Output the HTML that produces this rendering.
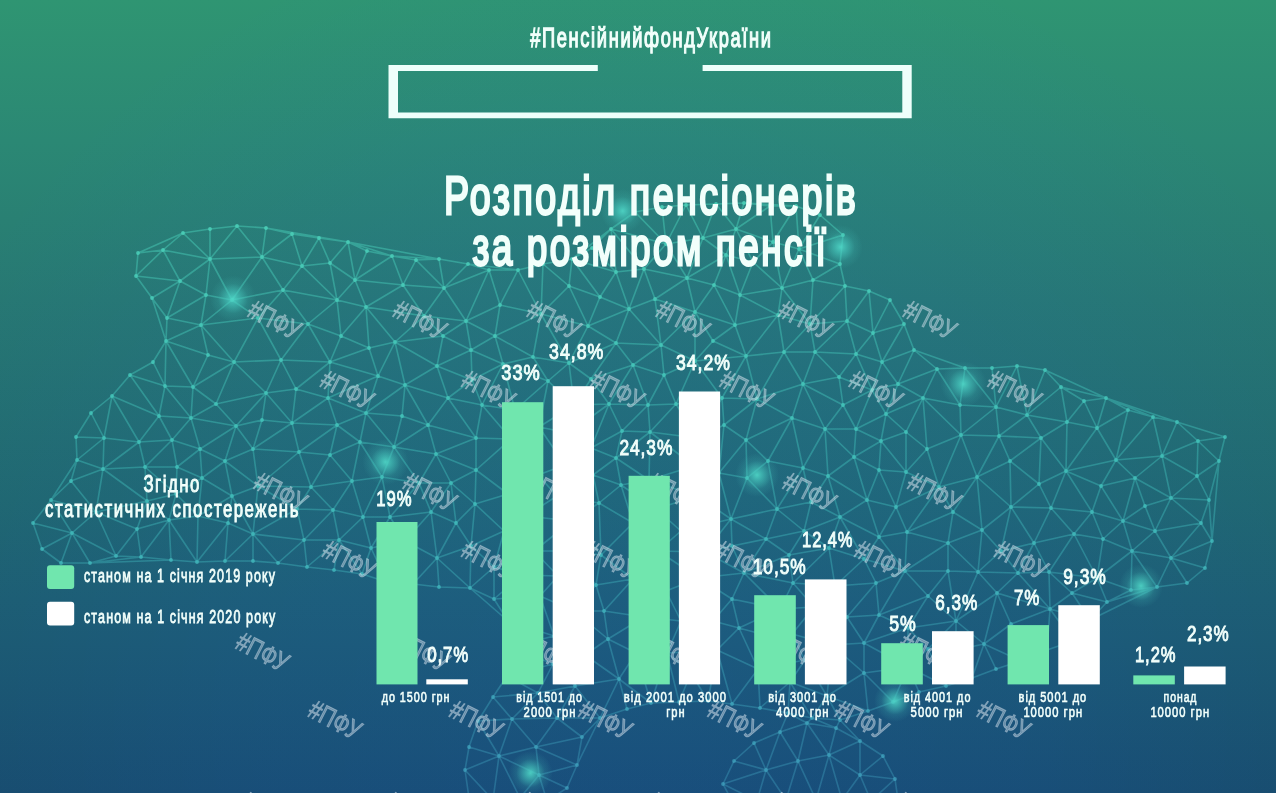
<!DOCTYPE html>
<html lang="uk"><head><meta charset="utf-8"><title>Розподіл пенсіонерів за розміром пенсії</title>
<style>
html,body{margin:0;padding:0;background:#1d5e73;}
body{width:1276px;height:793px;overflow:hidden;}
svg{display:block;font-family:"Liberation Sans", sans-serif;}
</style></head><body>
<svg width="1276" height="793" viewBox="0 0 1276 793">
<defs>
<linearGradient id="bg" x1="0" y1="0" x2="0" y2="1">
<stop offset="0" stop-color="#2f9572"/><stop offset=".177" stop-color="#2b8874"/><stop offset=".378" stop-color="#277872"/><stop offset=".63" stop-color="#20686f"/><stop offset=".757" stop-color="#1d5e70"/><stop offset="1" stop-color="#184d6c"/>
</linearGradient>
<radialGradient id="bl" gradientUnits="userSpaceOnUse" cx="638" cy="700" r="800"><stop offset="0" stop-color="#1c5aff" stop-opacity=".115"/><stop offset=".5" stop-color="#1c5aff" stop-opacity=".085"/><stop offset="1" stop-color="#1c5aff" stop-opacity="0"/></radialGradient>
<radialGradient id="gl"><stop offset="0" stop-color="#50d8c8" stop-opacity=".9"/><stop offset=".3" stop-color="#48ccc0" stop-opacity=".6"/><stop offset=".65" stop-color="#48ccc0" stop-opacity=".16"/><stop offset="1" stop-color="#4fd0c4" stop-opacity="0"/></radialGradient>
<linearGradient id="ng" gradientUnits="userSpaceOnUse" x1="0" y1="200" x2="0" y2="793"><stop offset="0" stop-color="#48ceb6" stop-opacity=".5"/><stop offset=".45" stop-color="#42c6c0" stop-opacity=".4"/><stop offset="1" stop-color="#4ab6d2" stop-opacity=".3"/></linearGradient>
<linearGradient id="nd" gradientUnits="userSpaceOnUse" x1="0" y1="200" x2="0" y2="793"><stop offset="0" stop-color="#4ed6bc" stop-opacity=".8"/><stop offset=".45" stop-color="#46cec4" stop-opacity=".7"/><stop offset="1" stop-color="#4cbcd6" stop-opacity=".5"/></linearGradient>
</defs>
<rect width="1276" height="793" fill="url(#bg)"/>
<rect width="1276" height="793" fill="url(#bl)"/>
<g id="net" fill="none" stroke="url(#ng)">
<path stroke-width="1.6" d="M136 276L152 298M136 276L163 250M136 276L138 253M136 276L180 281M152 298L167 318M152 298L166 341M152 298L180 281M167 318L166 341M167 318L201 325M167 318L180 281M167 318L206 295M166 341L153 362M166 341L208 355M166 341L201 325M166 341L165 386M166 341L193 387M153 362L130 375M153 362L165 386M130 375L112 396M130 375L159 416M130 375L165 386M112 396L91 413M112 396L139 442M112 396L104 438M112 396L159 416M91 413L76 437M91 413L104 438M76 437L77 460M76 437L104 438M77 460L71 481M77 460L51 500M77 460L104 438M77 460L103 469M71 481L51 500M71 481L96 512M71 481L103 469M51 500L33 523M51 500L72 533M51 500L96 512M33 523L42 549M33 523L72 533M42 549L61 563M42 549L72 533M61 563L90 563M61 563L72 533M90 563L116 556M90 563L141 557M90 563L171 560M90 563L72 533M116 556L141 557M116 556L72 533M116 556L96 512M116 556L137 529M141 557L171 560M141 557L169 520M141 557L137 529M171 560L197 562M171 560L169 520M197 562L225 561M197 562L198 516M197 562L169 520M197 562L228 523M225 561L253 561M225 561L253 534M225 561L228 523M253 561L278 563M253 561L253 534M278 563L307 567M278 563L253 534M278 563L304 540M307 567L334 570M307 567L339 540M307 567L304 540M334 570L362 574M334 570L339 540M362 574L387 582M362 574L339 540M362 574L371 548M387 582L413 584M387 582L405 541M387 582L371 548M413 584L439 587M413 584L405 541M413 584L437 558M439 587L470 588M439 587L437 558M470 588L494 599M470 588L508 621M470 588L471 546M470 588L437 558M470 588L494 567M494 599L508 621M494 599L540 596M494 599L494 567M494 599L522 575M508 621L511 647M508 621L540 596M508 621L554 636M511 647L507 676M511 647L554 636M511 647L553 664M507 676L493 697M507 676L538 693M507 676L553 664M493 697L478 721M493 697L538 693M493 697L512 719M478 721L469 747M478 721L499 756M478 721L512 719M469 747L465 770M469 747L499 756M465 770L469 798M465 770L493 800M465 770L499 756M469 798L493 800M493 800L520 798M493 800L547 801M493 800L499 756M520 798L547 801M520 798L499 756M520 798L539 775M547 801L567 788M547 801L539 775M567 788L577 765M567 788L539 775M577 765L582 737M577 765L600 718M577 765L536 747M577 765L539 775M582 737L600 718M582 737L536 747M582 737L557 718M600 718L627 709M600 718L619 679M600 718L557 718M600 718L575 686M627 709L651 703M627 709L619 679M651 703L679 702M651 703L619 679M651 703L667 653M651 703L636 653M679 702L708 701M679 702L667 653M679 702L691 673M708 701L732 704M708 701L717 650M708 701L691 673M732 704L760 708M732 704L717 650M732 704L758 669M760 708L788 713M760 708L790 682M760 708L758 669M788 713L812 718M788 713L780 732M788 713L807 723M788 713L790 682M812 718L840 720M812 718L836 728M812 718L807 723M812 718L790 682M812 718L827 696M840 720L868 711M840 720L860 741M840 720L836 728M840 720L827 696M868 711L893 702M868 711L864 673M868 711L827 696M893 702L919 692M893 702L908 667M893 702L864 673M919 692L946 686M919 692L908 667M946 686L972 678M946 686L908 667M946 686L956 650M946 686L928 649M972 678L996 669M972 678L984 644M972 678L956 650M996 669L1021 661M996 669L984 644M1021 661L1047 650M1021 661L984 644M1021 661L1011 624M1047 650L1073 641M1047 650L1050 609M1047 650L1011 624M1073 641L1090 620M1073 641L1050 609M1090 620L1107 602M1090 620L1157 587M1090 620L1050 609M1090 620L1072 593M1107 602L1131 590M1107 602L1157 587M1107 602L1097 578M1107 602L1072 593M1131 590L1157 587M1131 590L1097 578M1131 590L1132 551M1157 587L1187 583M1157 587L1132 551M1157 587L1171 558M1187 583L1205 568M1187 583L1171 558M1205 568L1212 541M1205 568L1171 558M1212 541L1201 523M1212 541L1209 500M1212 541L1219 461M1212 541L1171 558M1201 523L1209 500M1201 523L1155 531M1201 523L1171 498M1201 523L1171 558M1209 500L1197 476M1209 500L1219 461M1209 500L1171 498M1197 476L1219 461M1197 476L1198 441M1197 476L1171 498M1197 476L1162 456M1219 461L1225 437M1219 461L1198 441M1225 437L1198 441M1225 437L1177 422M1198 441L1177 422M1198 441L1162 456M1177 422L1153 417M1177 422L1106 398M1177 422L1162 456M1153 417L1128 410M1153 417L1106 398M1153 417L1116 460M1153 417L1162 456M1128 410L1106 398M1128 410L1116 460M1128 410L1097 428M1106 398L1084 401M1106 398L1061 387M1106 398L1045 370M1106 398L1097 428M1084 401L1061 387M1084 401L1097 428M1084 401L1067 422M1061 387L1045 370M1061 387L1027 415M1061 387L1067 422M1045 370L1017 366M1045 370L1027 415M1017 366L992 368M1017 366L1027 415M1017 366L996 407M992 368L965 368M992 368L996 407M965 368L937 369M965 368L914 350M965 368L996 407M965 368L960 405M937 369L914 350M937 369L923 398M937 369L960 405M937 369L898 384M914 350L904 324M914 350L882 362M914 350L898 384M904 324L890 300M904 324L882 362M904 324L873 333M890 300L869 291M890 300L873 333M869 291L845 286M869 291L847 321M869 291L873 333M845 286L840 264M845 286L847 321M845 286L810 324M845 286L813 280M840 264L843 235M840 264L799 249M840 264L813 280M843 235L820 215M843 235L799 249M820 215L796 206M820 215L799 249M796 206L770 206M796 206L744 203M796 206L799 249M796 206L773 242M770 206L744 203M770 206L736 229M770 206L773 242M744 203L716 204M744 203L686 205M744 203L736 229M716 204L686 205M716 204L736 229M716 204L703 238M686 205L662 207M686 205L666 244M686 205L703 238M662 207L635 212M662 207L666 244M635 212L611 229M635 212L666 244M611 229L592 248M611 229L572 259M611 229L666 244M611 229L644 269M611 229L616 272M592 248L572 259M592 248L616 272M572 259L543 264M572 259L569 286M572 259L600 297M572 259L616 272M543 264L518 270M543 264L569 286M543 264L541 314M518 270L489 270M518 270L468 264M518 270L541 314M518 270L500 305M489 270L468 264M489 270L466 321M489 270L444 288M489 270L500 305M468 264L439 259M468 264L444 288M439 259L416 260M439 259L392 256M439 259L348 242M439 259L444 288M416 260L392 256M416 260L444 288M416 260L403 285M392 256L367 251M392 256L348 242M392 256L355 280M392 256L403 285M367 251L348 242M367 251L355 280M348 242L319 238M348 242L266 228M348 242L355 280M348 242L330 263M319 238L292 234M319 238L266 228M319 238L302 266M319 238L330 263M292 234L266 228M292 234L262 257M292 234L302 266M266 228L237 226M266 228L262 257M237 226L210 229M237 226L262 257M237 226L210 259M210 229L183 233M210 229L210 259M183 233L163 250M183 233L138 253M183 233L210 259M163 250L138 253M163 250L180 281M163 250L210 259M780 732L754 743M780 732L807 723M780 732L798 761M780 732L766 770M754 743L734 761M754 743L766 770M734 761L723 784M734 761L766 770M723 784L731 799M723 784L757 801M723 784L766 770M731 799L757 801M757 801L786 800M757 801L816 800M757 801L766 770M786 800L816 800M786 800L798 761M786 800L766 770M816 800L842 800M816 800L871 801M816 800L829 755M816 800L798 761M842 800L871 801M842 800L829 755M842 800L860 775M871 801L898 800M871 801L895 779M871 801L860 775M898 800L895 779M895 779L883 756M895 779L860 775M883 756L860 741M883 756L860 775M860 741L836 728M860 741L829 755M860 741L860 775M836 728L807 723M836 728L829 755M807 723L829 755M807 723L798 761M644 617L604 611M644 617L633 579M644 617L667 653M644 617L666 591M644 617L608 639M644 617L636 653M644 617L681 621M572 521L599 503M572 521L526 516M572 521L534 551M572 521L601 555M572 521L557 496M572 521L569 551M177 467L176 494M177 467L145 467M177 467L202 478M177 467L200 449M177 467L172 440M508 494L526 516M508 494L504 531M508 494L475 504M508 494L511 439M508 494L538 475M508 494L476 470M225 461L258 486M225 461L232 496M225 461L202 478M225 461L253 449M225 461L200 449M225 461L236 426M648 405L622 431M648 405L650 432M648 405L633 365M648 405L664 375M648 405L676 404M648 405L609 404M266 393L262 420M266 393L292 423M266 393L281 360M266 393L216 404M266 393L234 362M266 393L296 389M266 393L236 426M694 466L649 480M694 466L697 438M694 466L650 432M694 466L697 496M694 466L719 473M777 509L731 519M777 509L768 461M777 509L803 468M777 509L747 478M777 509L804 531M777 509L766 539M777 509L811 502M355 280L337 300M355 280L403 285M355 280L330 263M355 280L366 307M536 747L499 756M536 747L557 718M536 747L512 719M536 747L539 775M713 621L699 578M713 621L732 599M713 621L717 650M713 621L681 621M713 621L739 628M854 457L825 429M854 457L879 470M854 457L867 500M854 457L828 476M854 457L856 429M854 457L881 441M790 682L805 660M790 682L758 669M790 682L827 696M574 405L569 363M574 405L591 379M574 405L569 433M574 405L548 381M574 405L609 404M574 405L539 427M661 345L629 309M661 345L616 343M661 345L655 299M661 345L695 361M661 345L633 365M661 345L695 312M661 345L664 375M405 385L402 416M405 385L395 342M405 385L366 413M405 385L437 366M405 385L448 398M405 385L378 376M405 385L428 425M629 309L616 343M629 309L655 299M629 309L588 326M629 309L644 269M629 309L600 297M629 309L616 272M907 532L939 487M907 532L948 543M907 532L905 571M907 532L896 507M907 532L953 512M907 532L879 537M258 486L299 452M258 486L311 487M258 486L232 496M258 486L297 509M258 486L253 534M258 486L253 449M1010 461L1011 507M1010 461L977 477M1010 461L1041 438M1010 461L1039 484M1010 461L999 436M876 583L847 617M876 583L864 559M876 583L879 615M876 583L835 586M876 583L905 571M515 410L482 405M515 410L511 439M515 410L548 381M515 410L539 427M515 410L503 364M337 300L302 266M337 300L308 324M337 300L330 263M337 300L283 290M337 300L341 336M337 300L366 307M369 348L395 342M369 348L330 362M369 348L378 376M369 348L341 336M369 348L366 307M382 477L360 442M382 477L352 481M382 477L419 483M382 477L394 447M382 477L363 517M382 477L390 517M402 416L366 413M402 416L394 447M402 416L428 425M599 503L633 523M599 503L601 555M599 503L557 496M599 503L621 485M599 503L593 475M139 442L104 438M139 442L159 416M139 442L103 469M139 442L145 467M139 442L172 440M395 342L437 366M395 342L424 316M395 342L378 376M395 342L366 307M395 342L443 336M731 519L697 496M731 519L747 478M731 519L681 531M731 519L719 473M731 519L732 546M731 519L766 539M731 519L705 552M928 596L948 571M928 596L956 621M928 596L908 628M928 596L879 615M928 596L905 571M1097 578L1074 534M1097 578L1049 572M1097 578L1132 551M1097 578L1103 539M1097 578L1072 593M198 516L169 520M198 516L232 496M198 516L176 494M198 516L228 523M198 516L202 478M847 617L864 643M847 617L832 645M847 617L879 615M847 617L814 607M847 617L835 586M191 418L159 416M191 418L216 404M191 418L165 386M191 418L193 387M191 418L200 449M191 418L236 426M191 418L172 440M699 578L658 551M699 578L744 573M699 578L732 599M699 578L666 591M699 578L681 621M699 578L705 552M780 609L744 573M780 609L732 599M780 609L793 583M780 609L765 635M780 609L814 607M780 609L792 634M780 609L739 628M633 523L633 579M633 523L658 551M633 523L601 555M633 523L656 509M633 523L621 485M622 431L650 432M622 431L609 404M622 431L591 448M622 431L616 458M604 611L633 579M604 611L574 611M604 611L608 639M604 611L596 585M948 571L956 621M948 571L978 572M948 571L948 543M948 571L905 571M799 249L782 288M799 249L773 242M799 249L813 280M208 355L201 325M208 355L234 362M208 355L193 387M839 377L803 384M839 377L815 352M839 377L843 405M839 377L872 390M839 377L856 354M649 480L650 432M649 480L697 496M649 480L616 458M649 480L656 509M649 480L621 485M569 363L533 357M569 363L616 343M569 363L591 379M569 363L541 314M569 363L588 326M569 363L548 381M1011 507L982 530M1011 507L977 477M1011 507L1001 551M1011 507L1034 543M1011 507L1051 508M1011 507L1039 484M476 438L482 405M476 438L436 454M476 438L511 439M476 438L448 398M476 438L476 470M476 438L428 425M330 362L281 360M330 362L328 398M330 362L308 324M330 362L378 376M330 362L341 336M330 362L296 389M1155 531L1171 498M1155 531L1132 551M1155 531L1171 558M1155 531L1123 521M1155 531L1145 506M906 472L927 449M906 472L879 470M906 472L939 487M906 472L906 432M906 472L896 507M906 472L881 441M697 438L722 398M697 438L650 432M697 438L676 404M697 438L719 473M697 438L724 425M232 300L262 257M232 300L201 325M232 300L258 318M232 300L210 259M232 300L283 290M232 300L206 295M569 286L541 314M569 286L588 326M569 286L600 297M262 257L302 266M262 257L210 259M262 257L283 290M927 449L923 398M927 449L961 435M927 449L939 487M927 449L906 432M526 516L504 531M526 516L534 551M526 516L538 475M526 516L557 496M482 405L511 439M482 405L448 398M482 405L503 364M482 405L472 380M633 579L658 551M633 579L601 555M633 579L666 591M633 579L596 585M1101 486L1066 471M1101 486L1116 460M1101 486L1135 478M1101 486L1123 521M1101 486L1092 512M499 756L512 719M499 756L539 775M805 660L758 669M805 660L827 696M805 660L832 645M805 660L792 634M803 384L825 429M803 384L757 399M803 384L792 418M803 384L784 352M803 384L815 352M803 384L843 405M658 551L681 531M658 551L666 591M658 551L656 509M658 551L705 552M495 336L533 357M495 336L466 321M495 336L541 314M495 336L471 350M495 336L500 305M495 336L503 364M533 357L541 314M533 357L548 381M533 357L503 364M829 755L798 761M829 755L860 775M436 454L419 483M436 454L394 447M436 454L476 470M436 454L451 483M436 454L428 425M847 321L810 324M847 321L815 352M847 321L873 333M847 321L856 354M984 644L997 593M984 644L956 621M984 644L1011 624M984 644L956 650M299 452L311 487M299 452L292 423M299 452L330 455M299 452L253 449M299 452L337 425M104 438L103 469M825 429L792 418M825 429L803 468M825 429L828 476M825 429L843 405M825 429L856 429M366 413L328 398M366 413L360 442M366 413L394 447M366 413L378 376M366 413L337 425M262 420L292 423M262 420L253 449M262 420L236 426M437 366L448 398M437 366L471 350M437 366L472 380M437 366L443 336M311 487L330 455M311 487L352 481M311 487L297 509M311 487L333 510M757 399L722 398M757 399L792 418M757 399L784 352M757 399L746 440M757 399L746 356M757 399L724 425M72 533L96 512M147 501L169 520M147 501L96 512M147 501L137 529M147 501L176 494M147 501L103 469M147 501L145 467M879 470L867 500M879 470L896 507M879 470L881 441M722 398L695 361M722 398L746 356M722 398L676 404M722 398L724 425M997 593L956 621M997 593L1050 609M997 593L1011 624M997 593L978 572M997 593L1018 573M1066 471L1116 460M1066 471L1041 438M1066 471L1051 508M1066 471L1039 484M1066 471L1097 428M1066 471L1067 422M1066 471L1092 512M744 573L732 599M744 573L793 583M744 573L732 546M744 573L766 539M744 573L705 552M744 573L789 555M292 423L328 398M292 423L253 449M292 423L296 389M292 423L337 425M201 325L258 318M201 325L234 362M201 325L206 295M810 324L784 352M810 324L815 352M810 324L782 288M810 324L778 315M810 324L813 280M982 530L977 477M982 530L1001 551M982 530L978 572M982 530L948 543M982 530L953 512M504 531L475 504M504 531L534 551M504 531L471 546M504 531L494 567M405 541L431 512M405 541L437 558M405 541L390 517M405 541L371 548M466 321L444 288M466 321L424 316M466 321L471 350M466 321L500 305M466 321L443 336M538 693L553 664M538 693L557 718M538 693L512 719M538 693L575 686M475 504L471 546M475 504L476 470M475 504L451 483M475 504L456 523M650 432L676 404M650 432L616 458M534 551L558 576M534 551L494 567M534 551L522 575M534 551L569 551M540 596L554 636M540 596L558 576M540 596L574 611M540 596L522 575M565 465L538 475M565 465L569 433M565 465L557 496M565 465L539 427M565 465L591 448M565 465L593 475M616 343L591 379M616 343L633 365M616 343L588 326M908 667L864 643M908 667L864 673M908 667L908 628M908 667L928 649M281 360L258 318M281 360L234 362M281 360L308 324M281 360L296 389M169 520L137 529M169 520L176 494M792 418L768 461M792 418L803 468M792 418L746 440M1074 534L1049 572M1074 534L1034 543M1074 534L1051 508M1074 534L1103 539M1074 534L1092 512M732 599L739 628M768 461L803 468M768 461L746 440M768 461L747 478M159 416L165 386M159 416L172 440M735 325L714 285M735 325L746 356M735 325L695 312M735 325L778 315M735 325L713 341M735 325L740 295M803 468L828 476M803 468L811 502M302 266L330 263M302 266L283 290M882 362L873 333M882 362L898 384M882 362L872 390M882 362L856 354M923 398L961 435M923 398L960 405M923 398L886 414M923 398L906 432M923 398L898 384M554 636L553 664M554 636L574 611M554 636L585 655M444 288L424 316M444 288L403 285M864 643L864 673M864 643L908 628M864 643L832 645M864 643L879 615M1049 572L1050 609M1049 572L1034 543M1049 572L1018 573M1049 572L1072 593M553 664L575 686M553 664L585 655M619 679L575 686M619 679L608 639M619 679L636 653M619 679L585 655M867 500L828 476M867 500L840 517M867 500L896 507M867 500L879 537M864 673L827 696M864 673L832 645M511 439L538 475M511 439L476 470M511 439L539 427M667 653L717 650M667 653L691 673M667 653L636 653M667 653L681 621M448 398L428 425M448 398L472 380M328 398L378 376M328 398L296 389M328 398L337 425M655 299L687 278M655 299L644 269M655 299L695 312M424 316L403 285M424 316L366 307M424 316L443 336M1116 460L1162 456M1116 460L1135 478M1116 460L1097 428M717 650L758 669M717 650L691 673M717 650L681 621M717 650L739 628M956 621L908 628M956 621L978 572M956 621L956 650M956 621L928 649M1050 609L1011 624M1050 609L1018 573M1050 609L1072 593M784 352L815 352M784 352L746 356M784 352L778 315M538 475L557 496M538 475L539 427M961 435L977 477M961 435L996 407M961 435L960 405M961 435L939 487M961 435L999 436M360 442L330 455M360 442L352 481M360 442L394 447M360 442L337 425M591 379L633 365M591 379L609 404M687 278L714 285M687 278L666 244M687 278L726 255M687 278L644 269M687 278L695 312M687 278L703 238M1027 415L996 407M1027 415L1041 438M1027 415L1067 422M1027 415L999 436M541 314L588 326M541 314L500 305M815 352L856 354M758 669L765 635M758 669L792 634M758 669L739 628M695 361L746 356M695 361L695 312M695 361L664 375M695 361L676 404M695 361L713 341M793 583L829 548M793 583L814 607M793 583L835 586M793 583L789 555M633 365L664 375M633 365L609 404M864 559L840 517M864 559L829 548M864 559L835 586M864 559L905 571M864 559L879 537M828 476L840 517M828 476L811 502M798 761L766 770M471 546L437 558M471 546L494 567M471 546L456 523M588 326L600 297M977 477L939 487M977 477L953 512M977 477L999 436M601 555L596 585M601 555L569 551M258 318L234 362M258 318L308 324M258 318L283 290M746 440L747 478M746 440L719 473M746 440L724 425M339 540L333 510M339 540L304 540M339 540L363 517M339 540L371 548M782 288L753 262M782 288L778 315M782 288L773 242M782 288L813 280M782 288L740 295M232 496L253 534M232 496L228 523M232 496L202 478M996 407L960 405M996 407L999 436M714 285L726 255M714 285L695 312M714 285L740 295M1001 551L1034 543M1001 551L978 572M1001 551L1018 573M1171 498L1162 456M1171 498L1135 478M1171 498L1145 506M96 512L137 529M96 512L103 469M330 455L352 481M330 455L337 425M666 244L644 269M666 244L703 238M352 481L333 510M352 481L363 517M180 281L210 259M180 281L206 295M297 509L253 534M297 509L333 510M297 509L304 540M697 496L681 531M697 496L719 473M697 496L656 509M216 404L234 362M216 404L193 387M216 404L236 426M939 487L896 507M939 487L953 512M726 255L753 262M726 255L736 229M726 255L740 295M726 255L703 238M840 517L804 531M840 517L829 548M840 517L811 502M840 517L879 537M558 576L574 611M558 576L522 575M558 576L596 585M558 576L569 551M644 269L616 272M886 414L906 432M886 414L856 429M886 414L898 384M886 414L872 390M886 414L881 441M234 362L193 387M569 433L609 404M569 433L539 427M569 433L591 448M471 350L503 364M471 350L472 380M471 350L443 336M908 628L879 615M908 628L928 649M1034 543L1051 508M1034 543L1018 573M1162 456L1135 478M403 285L366 307M747 478L719 473M419 483L431 512M419 483L394 447M419 483L390 517M419 483L451 483M827 696L832 645M557 718L512 719M557 718L575 686M753 262L736 229M753 262L773 242M753 262L740 295M253 534L228 523M253 534L304 540M600 297L616 272M1041 438L1039 484M1041 438L1067 422M1041 438L999 436M736 229L773 242M736 229L703 238M1132 551L1171 558M1132 551L1103 539M1132 551L1123 521M873 333L856 354M843 405L856 429M843 405L872 390M746 356L778 315M746 356L713 341M765 635L792 634M765 635L739 628M695 312L713 341M308 324L283 290M308 324L341 336M176 494L145 467M176 494L202 478M681 531L656 509M681 531L705 552M804 531L829 548M804 531L766 539M804 531L811 502M804 531L789 555M1051 508L1039 484M1051 508L1092 512M978 572L948 543M978 572L1018 573M557 496L593 475M832 645L814 607M832 645L792 634M431 512L437 558M431 512L390 517M431 512L451 483M431 512L456 523M210 259L206 295M437 558L456 523M575 686L585 655M879 615L905 571M664 375L676 404M165 386L193 387M829 548L835 586M829 548L789 555M103 469L145 467M574 611L608 639M574 611L596 585M574 611L585 655M906 432L881 441M145 467L172 440M666 591L681 621M394 447L428 425M1135 478L1123 521M1135 478L1145 506M476 470L451 483M202 478L200 449M548 381L539 427M548 381L503 364M494 567L522 575M719 473L724 425M609 404L591 448M608 639L636 653M608 639L585 655M814 607L835 586M814 607L792 634M778 315L740 295M732 546L766 539M732 546L705 552M766 539L789 555M948 543L905 571M948 543L953 512M1097 428L1067 422M591 448L616 458M591 448L593 475M333 510L304 540M333 510L363 517M956 650L928 649M253 449L236 426M905 571L879 537M503 364L472 380M616 458L621 485M616 458L593 475M896 507L879 537M1103 539L1123 521M1103 539L1092 512M341 336L366 307M363 517L390 517M363 517L371 548M390 517L371 548M200 449L236 426M200 449L172 440M656 509L621 485M596 585L569 551M1123 521L1145 506M1123 521L1092 512M451 483L456 523M856 429L872 390M856 429L881 441M621 485L593 475M898 384L872 390M872 390L856 354"/>
<path stroke="url(#nd)" stroke-width="3.8" stroke-linecap="round" d="M136 276h.01M152 298h.01M167 318h.01M166 341h.01M153 362h.01M130 375h.01M112 396h.01M91 413h.01M76 437h.01M77 460h.01M71 481h.01M51 500h.01M33 523h.01M42 549h.01M61 563h.01M90 563h.01M116 556h.01M141 557h.01M171 560h.01M197 562h.01M225 561h.01M253 561h.01M278 563h.01M307 567h.01M334 570h.01M362 574h.01M387 582h.01M413 584h.01M439 587h.01M470 588h.01M494 599h.01M508 621h.01M511 647h.01M507 676h.01M493 697h.01M478 721h.01M469 747h.01M465 770h.01M469 798h.01M567 788h.01M577 765h.01M582 737h.01M600 718h.01M627 709h.01M651 703h.01M679 702h.01M708 701h.01M732 704h.01M760 708h.01M788 713h.01M812 718h.01M840 720h.01M868 711h.01M893 702h.01M919 692h.01M946 686h.01M972 678h.01M996 669h.01M1021 661h.01M1047 650h.01M1073 641h.01M1090 620h.01M1107 602h.01M1131 590h.01M1157 587h.01M1187 583h.01M1205 568h.01M1212 541h.01M1201 523h.01M1209 500h.01M1197 476h.01M1219 461h.01M1225 437h.01M1198 441h.01M1177 422h.01M1153 417h.01M1128 410h.01M1106 398h.01M1084 401h.01M1061 387h.01M1045 370h.01M1017 366h.01M992 368h.01M965 368h.01M937 369h.01M914 350h.01M904 324h.01M890 300h.01M869 291h.01M845 286h.01M840 264h.01M843 235h.01M820 215h.01M796 206h.01M770 206h.01M744 203h.01M716 204h.01M686 205h.01M662 207h.01M635 212h.01M611 229h.01M592 248h.01M572 259h.01M543 264h.01M518 270h.01M489 270h.01M468 264h.01M439 259h.01M416 260h.01M392 256h.01M367 251h.01M348 242h.01M319 238h.01M292 234h.01M266 228h.01M237 226h.01M210 229h.01M183 233h.01M163 250h.01M138 253h.01M780 732h.01M754 743h.01M734 761h.01M723 784h.01M895 779h.01M883 756h.01M860 741h.01M836 728h.01M807 723h.01M644 617h.01M572 521h.01M177 467h.01M508 494h.01M225 461h.01M648 405h.01M266 393h.01M694 466h.01M777 509h.01M355 280h.01M536 747h.01M713 621h.01M854 457h.01M790 682h.01M574 405h.01M661 345h.01M405 385h.01M629 309h.01M907 532h.01M258 486h.01M1010 461h.01M876 583h.01M515 410h.01M337 300h.01M369 348h.01M382 477h.01M402 416h.01M599 503h.01M139 442h.01M395 342h.01M731 519h.01M928 596h.01M1097 578h.01M198 516h.01M847 617h.01M191 418h.01M699 578h.01M780 609h.01M633 523h.01M622 431h.01M604 611h.01M948 571h.01M799 249h.01M208 355h.01M839 377h.01M649 480h.01M569 363h.01M1011 507h.01M476 438h.01M330 362h.01M1155 531h.01M906 472h.01M697 438h.01M232 300h.01M569 286h.01M262 257h.01M927 449h.01M526 516h.01M482 405h.01M633 579h.01M1101 486h.01M499 756h.01M805 660h.01M803 384h.01M658 551h.01M495 336h.01M533 357h.01M829 755h.01M436 454h.01M847 321h.01M984 644h.01M299 452h.01M104 438h.01M825 429h.01M366 413h.01M262 420h.01M437 366h.01M311 487h.01M757 399h.01M72 533h.01M147 501h.01M879 470h.01M722 398h.01M997 593h.01M1066 471h.01M744 573h.01M292 423h.01M201 325h.01M810 324h.01M982 530h.01M504 531h.01M405 541h.01M466 321h.01M538 693h.01M475 504h.01M650 432h.01M534 551h.01M540 596h.01M565 465h.01M616 343h.01M908 667h.01M281 360h.01M169 520h.01M792 418h.01M1074 534h.01M732 599h.01M768 461h.01M159 416h.01M735 325h.01M803 468h.01M302 266h.01M882 362h.01M923 398h.01M554 636h.01M444 288h.01M864 643h.01M1049 572h.01M553 664h.01M619 679h.01M867 500h.01M864 673h.01M511 439h.01M667 653h.01M448 398h.01M328 398h.01M655 299h.01M424 316h.01M1116 460h.01M717 650h.01M956 621h.01M1050 609h.01M784 352h.01M538 475h.01M961 435h.01M360 442h.01M591 379h.01M687 278h.01M1027 415h.01M541 314h.01M815 352h.01M758 669h.01M695 361h.01M793 583h.01M633 365h.01M864 559h.01M828 476h.01M798 761h.01M471 546h.01M588 326h.01M977 477h.01M601 555h.01M258 318h.01M746 440h.01M339 540h.01M782 288h.01M232 496h.01M996 407h.01M714 285h.01M1001 551h.01M1171 498h.01M960 405h.01M96 512h.01M330 455h.01M666 244h.01M352 481h.01M180 281h.01M137 529h.01M297 509h.01M697 496h.01M216 404h.01M939 487h.01M726 255h.01M840 517h.01M558 576h.01M644 269h.01M886 414h.01M234 362h.01M569 433h.01M471 350h.01M908 628h.01M1034 543h.01M1162 456h.01M403 285h.01M747 478h.01M419 483h.01M1011 624h.01M827 696h.01M557 718h.01M500 305h.01M753 262h.01M253 534h.01M600 297h.01M1041 438h.01M736 229h.01M1132 551h.01M873 333h.01M843 405h.01M746 356h.01M765 635h.01M695 312h.01M512 719h.01M308 324h.01M176 494h.01M681 531h.01M804 531h.01M1051 508h.01M978 572h.01M557 496h.01M832 645h.01M431 512h.01M691 673h.01M210 259h.01M228 523h.01M437 558h.01M575 686h.01M879 615h.01M664 375h.01M165 386h.01M829 548h.01M103 469h.01M574 611h.01M906 432h.01M145 467h.01M666 591h.01M394 447h.01M1135 478h.01M378 376h.01M476 470h.01M676 404h.01M330 263h.01M202 478h.01M548 381h.01M494 567h.01M719 473h.01M609 404h.01M608 639h.01M814 607h.01M778 315h.01M732 546h.01M766 539h.01M193 387h.01M948 543h.01M1039 484h.01M539 427h.01M773 242h.01M1097 428h.01M591 448h.01M333 510h.01M956 650h.01M283 290h.01M522 575h.01M835 586h.01M253 449h.01M905 571h.01M1018 573h.01M304 540h.01M503 364h.01M616 458h.01M896 507h.01M1171 558h.01M1103 539h.01M953 512h.01M811 502h.01M341 336h.01M363 517h.01M296 389h.01M390 517h.01M636 653h.01M366 307h.01M371 548h.01M713 341h.01M1067 422h.01M200 449h.01M879 537h.01M656 509h.01M596 585h.01M337 425h.01M569 551h.01M1123 521h.01M792 634h.01M539 775h.01M1145 506h.01M451 483h.01M813 280h.01M856 429h.01M206 295h.01M681 621h.01M740 295h.01M703 238h.01M456 523h.01M739 628h.01M999 436h.01M766 770h.01M616 272h.01M1092 512h.01M860 775h.01M428 425h.01M724 425h.01M1072 593h.01M621 485h.01M898 384h.01M928 649h.01M472 380h.01M593 475h.01M872 390h.01M585 655h.01M236 426h.01M705 552h.01M856 354h.01M443 336h.01M789 555h.01M881 441h.01M172 440h.01"/>
</g>
<circle cx="233" cy="298.5" r="23" fill="url(#gl)"/><circle cx="385.5" cy="462" r="23" fill="url(#gl)"/><circle cx="622.7" cy="211" r="22" fill="url(#gl)"/><circle cx="840.5" cy="247" r="22" fill="url(#gl)"/><circle cx="963.5" cy="384" r="23" fill="url(#gl)"/><circle cx="757" cy="475" r="22" fill="url(#gl)"/><circle cx="530.5" cy="773" r="22" fill="url(#gl)"/><circle cx="1141" cy="586" r="22" fill="url(#gl)"/><circle cx="895" cy="701" r="21" fill="url(#gl)"/>
<g font-size="27" font-weight="normal" fill="#dfe9f2" fill-opacity=".4" stroke="#dfe9f2" stroke-opacity=".4" stroke-width=".95"><text x="274.7" y="329.3" transform="rotate(27 274.7 320)" text-anchor="middle" textLength="55" lengthAdjust="spacingAndGlyphs">#ПФУ</text><text x="420" y="329.3" transform="rotate(27 420 320)" text-anchor="middle" textLength="55" lengthAdjust="spacingAndGlyphs">#ПФУ</text><text x="554" y="329.3" transform="rotate(27 554 320)" text-anchor="middle" textLength="55" lengthAdjust="spacingAndGlyphs">#ПФУ</text><text x="683" y="329.3" transform="rotate(27 683 320)" text-anchor="middle" textLength="55" lengthAdjust="spacingAndGlyphs">#ПФУ</text><text x="805.6" y="329.3" transform="rotate(27 805.6 320)" text-anchor="middle" textLength="55" lengthAdjust="spacingAndGlyphs">#ПФУ</text><text x="930" y="329.3" transform="rotate(27 930 320)" text-anchor="middle" textLength="55" lengthAdjust="spacingAndGlyphs">#ПФУ</text><text x="347.3" y="399.3" transform="rotate(27 347.3 390)" text-anchor="middle" textLength="55" lengthAdjust="spacingAndGlyphs">#ПФУ</text><text x="488.5" y="399.3" transform="rotate(27 488.5 390)" text-anchor="middle" textLength="55" lengthAdjust="spacingAndGlyphs">#ПФУ</text><text x="617.5" y="399.3" transform="rotate(27 617.5 390)" text-anchor="middle" textLength="55" lengthAdjust="spacingAndGlyphs">#ПФУ</text><text x="746.8" y="399.3" transform="rotate(27 746.8 390)" text-anchor="middle" textLength="55" lengthAdjust="spacingAndGlyphs">#ПФУ</text><text x="876" y="399.3" transform="rotate(27 876 390)" text-anchor="middle" textLength="55" lengthAdjust="spacingAndGlyphs">#ПФУ</text><text x="1014.8" y="399.3" transform="rotate(27 1014.8 390)" text-anchor="middle" textLength="55" lengthAdjust="spacingAndGlyphs">#ПФУ</text><text x="280.7" y="501.3" transform="rotate(27 280.7 492)" text-anchor="middle" textLength="55" lengthAdjust="spacingAndGlyphs">#ПФУ</text><text x="430" y="501.3" transform="rotate(27 430 492)" text-anchor="middle" textLength="55" lengthAdjust="spacingAndGlyphs">#ПФУ</text><text x="554" y="501.3" transform="rotate(27 554 492)" text-anchor="middle" textLength="55" lengthAdjust="spacingAndGlyphs">#ПФУ</text><text x="674" y="501.3" transform="rotate(27 674 492)" text-anchor="middle" textLength="55" lengthAdjust="spacingAndGlyphs">#ПФУ</text><text x="809.7" y="501.3" transform="rotate(27 809.7 492)" text-anchor="middle" textLength="55" lengthAdjust="spacingAndGlyphs">#ПФУ</text><text x="934.5" y="501.3" transform="rotate(27 934.5 492)" text-anchor="middle" textLength="55" lengthAdjust="spacingAndGlyphs">#ПФУ</text><text x="349.3" y="569.3" transform="rotate(27 349.3 560)" text-anchor="middle" textLength="55" lengthAdjust="spacingAndGlyphs">#ПФУ</text><text x="488.5" y="569.3" transform="rotate(27 488.5 560)" text-anchor="middle" textLength="55" lengthAdjust="spacingAndGlyphs">#ПФУ</text><text x="610.8" y="569.3" transform="rotate(27 610.8 560)" text-anchor="middle" textLength="55" lengthAdjust="spacingAndGlyphs">#ПФУ</text><text x="742" y="569.3" transform="rotate(27 742 560)" text-anchor="middle" textLength="55" lengthAdjust="spacingAndGlyphs">#ПФУ</text><text x="881.6" y="569.3" transform="rotate(27 881.6 560)" text-anchor="middle" textLength="55" lengthAdjust="spacingAndGlyphs">#ПФУ</text><text x="1021.3" y="569.3" transform="rotate(27 1021.3 560)" text-anchor="middle" textLength="55" lengthAdjust="spacingAndGlyphs">#ПФУ</text><text x="262.7" y="661.3" transform="rotate(27 262.7 652)" text-anchor="middle" textLength="55" lengthAdjust="spacingAndGlyphs">#ПФУ</text><text x="423" y="661.3" transform="rotate(27 423 652)" text-anchor="middle" textLength="55" lengthAdjust="spacingAndGlyphs">#ПФУ</text><text x="545" y="661.3" transform="rotate(27 545 652)" text-anchor="middle" textLength="55" lengthAdjust="spacingAndGlyphs">#ПФУ</text><text x="672" y="661.3" transform="rotate(27 672 652)" text-anchor="middle" textLength="55" lengthAdjust="spacingAndGlyphs">#ПФУ</text><text x="799.5" y="661.3" transform="rotate(27 799.5 652)" text-anchor="middle" textLength="55" lengthAdjust="spacingAndGlyphs">#ПФУ</text><text x="926.6" y="661.3" transform="rotate(27 926.6 652)" text-anchor="middle" textLength="55" lengthAdjust="spacingAndGlyphs">#ПФУ</text><text x="335.2" y="729.3" transform="rotate(27 335.2 720)" text-anchor="middle" textLength="55" lengthAdjust="spacingAndGlyphs">#ПФУ</text><text x="476.3" y="729.3" transform="rotate(27 476.3 720)" text-anchor="middle" textLength="55" lengthAdjust="spacingAndGlyphs">#ПФУ</text><text x="605.6" y="729.3" transform="rotate(27 605.6 720)" text-anchor="middle" textLength="55" lengthAdjust="spacingAndGlyphs">#ПФУ</text><text x="734.7" y="729.3" transform="rotate(27 734.7 720)" text-anchor="middle" textLength="55" lengthAdjust="spacingAndGlyphs">#ПФУ</text><text x="861.8" y="729.3" transform="rotate(27 861.8 720)" text-anchor="middle" textLength="55" lengthAdjust="spacingAndGlyphs">#ПФУ</text><text x="1003.9" y="729.3" transform="rotate(27 1003.9 720)" text-anchor="middle" textLength="55" lengthAdjust="spacingAndGlyphs">#ПФУ</text><text x="267" y="820.3" transform="rotate(27 267 811)" text-anchor="middle" textLength="55" lengthAdjust="spacingAndGlyphs">#ПФУ</text><text x="412" y="820.3" transform="rotate(27 412 811)" text-anchor="middle" textLength="55" lengthAdjust="spacingAndGlyphs">#ПФУ</text><text x="546" y="820.3" transform="rotate(27 546 811)" text-anchor="middle" textLength="55" lengthAdjust="spacingAndGlyphs">#ПФУ</text><text x="675" y="820.3" transform="rotate(27 675 811)" text-anchor="middle" textLength="55" lengthAdjust="spacingAndGlyphs">#ПФУ</text><text x="798" y="820.3" transform="rotate(27 798 811)" text-anchor="middle" textLength="55" lengthAdjust="spacingAndGlyphs">#ПФУ</text><text x="922" y="820.3" transform="rotate(27 922 811)" text-anchor="middle" textLength="55" lengthAdjust="spacingAndGlyphs">#ПФУ</text></g>
<g id="head">
<text x="530.2" y="47.4" font-size="27.6" font-weight="normal" fill="#f2fffb" stroke="#f2fffb" stroke-width="1.35" letter-spacing="2.48" textLength="242.4" lengthAdjust="spacingAndGlyphs">#ПенсійнийфондУкраїни</text>
<path fill="#eefffb" d="M388.5 65H597.8V71H398V112.5H902.3V71H702.6V65H911.7V118.2H388.5Z"/>
<text x="443.9" y="214.2" font-size="54.5" font-weight="normal" fill="#f2fffb" stroke="#f2fffb" stroke-width="2.8" letter-spacing="3.6" word-spacing="-1" textLength="414.3" lengthAdjust="spacingAndGlyphs">Розподіл пенсіонерів</text>
<text x="472.4" y="265.3" font-size="54.5" font-weight="normal" fill="#f2fffb" stroke="#f2fffb" stroke-width="2.8" letter-spacing="3.6" word-spacing="-1" textLength="355.8" lengthAdjust="spacingAndGlyphs">за розміром пенсії</text>
</g>
<g id="legend">
<text x="143.4" y="491.8" font-size="24.4" font-weight="normal" fill="#f2fffb" stroke="#f2fffb" stroke-width="1.0" letter-spacing="2.2" textLength="57.5" lengthAdjust="spacingAndGlyphs">Згідно</text>
<text x="45.1" y="517.0" font-size="24.4" font-weight="normal" fill="#f2fffb" stroke="#f2fffb" stroke-width="1.0" letter-spacing="2.2" textLength="254.8" lengthAdjust="spacingAndGlyphs">статистичних спостережень</text>
<rect x="47" y="565.3" width="27.2" height="23.6" rx="3" fill="#70e6ae"/>
<rect x="47" y="601.8" width="27.2" height="23.6" rx="3" fill="#fff"/>
<text x="84.0" y="582.0" font-size="19" font-weight="normal" fill="#f2fffb" stroke="#f2fffb" stroke-width="0.8" letter-spacing="1.71" textLength="192.0" lengthAdjust="spacingAndGlyphs">станом на 1 січня 2019 року</text>
<text x="84.0" y="622.6" font-size="19" font-weight="normal" fill="#f2fffb" stroke="#f2fffb" stroke-width="0.8" letter-spacing="1.71" textLength="192.3" lengthAdjust="spacingAndGlyphs">станом на 1 січня 2020 року</text>
</g>
<g id="bars"><rect x="376.5" y="522.0" width="41.0" height="162.4" fill="#70e6ae"/><rect x="426.3" y="679.3" width="41.5" height="5.1" fill="#fff"/><rect x="502.0" y="402.2" width="41.3" height="282.2" fill="#70e6ae"/><rect x="552.7" y="386.2" width="41.3" height="298.2" fill="#fff"/><rect x="628.6" y="475.8" width="41.2" height="208.6" fill="#70e6ae"/><rect x="678.9" y="391.5" width="41.2" height="292.9" fill="#fff"/><rect x="754.2" y="595.2" width="41.6" height="89.2" fill="#70e6ae"/><rect x="804.9" y="579.4" width="41.6" height="105.0" fill="#fff"/><rect x="881.2" y="643.2" width="41.6" height="41.2" fill="#70e6ae"/><rect x="932.0" y="631.2" width="41.6" height="53.2" fill="#fff"/><rect x="1007.6" y="625.1" width="41.4" height="59.3" fill="#70e6ae"/><rect x="1058.3" y="605.2" width="41.5" height="79.2" fill="#fff"/><rect x="1133.3" y="675.4" width="41.5" height="9.0" fill="#70e6ae"/><rect x="1184.1" y="666.5" width="41.5" height="17.9" fill="#fff"/></g>
<g id="vals"><text x="376.3" y="506.3" font-size="22" font-weight="normal" fill="#f2fffb" stroke="#f2fffb" stroke-width="0.95" letter-spacing="1.2" textLength="36.1" lengthAdjust="spacingAndGlyphs">19%</text><text x="427.3" y="662.3" font-size="22" font-weight="normal" fill="#f2fffb" stroke="#f2fffb" stroke-width="0.95" letter-spacing="1.2" textLength="41.9" lengthAdjust="spacingAndGlyphs">0,7%</text><text x="501.3" y="380.4" font-size="22" font-weight="normal" fill="#f2fffb" stroke="#f2fffb" stroke-width="0.95" letter-spacing="1.2" textLength="39.5" lengthAdjust="spacingAndGlyphs">33%</text><text x="549.1" y="358.9" font-size="22" font-weight="normal" fill="#f2fffb" stroke="#f2fffb" stroke-width="0.95" letter-spacing="1.2" textLength="55.2" lengthAdjust="spacingAndGlyphs">34,8%</text><text x="619.4" y="455.4" font-size="22" font-weight="normal" fill="#f2fffb" stroke="#f2fffb" stroke-width="0.95" letter-spacing="1.2" textLength="53.9" lengthAdjust="spacingAndGlyphs">24,3%</text><text x="676.0" y="370.1" font-size="22" font-weight="normal" fill="#f2fffb" stroke="#f2fffb" stroke-width="0.95" letter-spacing="1.2" textLength="54.8" lengthAdjust="spacingAndGlyphs">34,2%</text><text x="752.7" y="574.4" font-size="22" font-weight="normal" fill="#f2fffb" stroke="#f2fffb" stroke-width="0.95" letter-spacing="1.2" textLength="54.0" lengthAdjust="spacingAndGlyphs">10,5%</text><text x="802.1" y="546.6" font-size="22" font-weight="normal" fill="#f2fffb" stroke="#f2fffb" stroke-width="0.95" letter-spacing="1.2" textLength="51.2" lengthAdjust="spacingAndGlyphs">12,4%</text><text x="889.2" y="631.2" font-size="22" font-weight="normal" fill="#f2fffb" stroke="#f2fffb" stroke-width="0.95" letter-spacing="1.2" textLength="27.6" lengthAdjust="spacingAndGlyphs">5%</text><text x="935.2" y="609.9" font-size="22" font-weight="normal" fill="#f2fffb" stroke="#f2fffb" stroke-width="0.95" letter-spacing="1.2" textLength="42.9" lengthAdjust="spacingAndGlyphs">6,3%</text><text x="1014.0" y="605.2" font-size="22" font-weight="normal" fill="#f2fffb" stroke="#f2fffb" stroke-width="0.95" letter-spacing="1.2" textLength="26.3" lengthAdjust="spacingAndGlyphs">7%</text><text x="1063.2" y="584.3" font-size="22" font-weight="normal" fill="#f2fffb" stroke="#f2fffb" stroke-width="0.95" letter-spacing="1.2" textLength="43.7" lengthAdjust="spacingAndGlyphs">9,3%</text><text x="1135.0" y="662.2" font-size="22" font-weight="normal" fill="#f2fffb" stroke="#f2fffb" stroke-width="0.95" letter-spacing="1.2" textLength="41.4" lengthAdjust="spacingAndGlyphs">1,2%</text><text x="1187.0" y="640.6" font-size="22" font-weight="normal" fill="#f2fffb" stroke="#f2fffb" stroke-width="0.95" letter-spacing="1.2" textLength="42.6" lengthAdjust="spacingAndGlyphs">2,3%</text></g>
<g id="cats"><text x="381.7" y="702.0" font-size="15.2" font-weight="normal" fill="#f2fffb" stroke="#f2fffb" stroke-width="0.65" letter-spacing="1.37" textLength="68.7" lengthAdjust="spacingAndGlyphs">до 1500 грн</text><text x="516.3" y="702.0" font-size="15.2" font-weight="normal" fill="#f2fffb" stroke="#f2fffb" stroke-width="0.65" letter-spacing="1.37" textLength="66.6" lengthAdjust="spacingAndGlyphs">від 1501 до</text><text x="523.6" y="716.9" font-size="15.2" font-weight="normal" fill="#f2fffb" stroke="#f2fffb" stroke-width="0.65" letter-spacing="1.37" textLength="53.0" lengthAdjust="spacingAndGlyphs">2000 грн</text><text x="623.8" y="702.0" font-size="15.2" font-weight="normal" fill="#f2fffb" stroke="#f2fffb" stroke-width="0.65" letter-spacing="1.37" textLength="103.1" lengthAdjust="spacingAndGlyphs">від 2001 до 3000</text><text x="666.3" y="716.9" font-size="15.2" font-weight="normal" fill="#f2fffb" stroke="#f2fffb" stroke-width="0.65" letter-spacing="1.37" textLength="19.3" lengthAdjust="spacingAndGlyphs">грн</text><text x="768.3" y="702.0" font-size="15.2" font-weight="normal" fill="#f2fffb" stroke="#f2fffb" stroke-width="0.65" letter-spacing="1.37" textLength="68.6" lengthAdjust="spacingAndGlyphs">від 3001 до</text><text x="776.1" y="716.9" font-size="15.2" font-weight="normal" fill="#f2fffb" stroke="#f2fffb" stroke-width="0.65" letter-spacing="1.37" textLength="53.5" lengthAdjust="spacingAndGlyphs">4000 грн</text><text x="903.7" y="702.0" font-size="15.2" font-weight="normal" fill="#f2fffb" stroke="#f2fffb" stroke-width="0.65" letter-spacing="1.37" textLength="67.7" lengthAdjust="spacingAndGlyphs">від 4001 до</text><text x="910.6" y="716.9" font-size="15.2" font-weight="normal" fill="#f2fffb" stroke="#f2fffb" stroke-width="0.65" letter-spacing="1.37" textLength="53.0" lengthAdjust="spacingAndGlyphs">5000 грн</text><text x="1018.6" y="702.0" font-size="15.2" font-weight="normal" fill="#f2fffb" stroke="#f2fffb" stroke-width="0.65" letter-spacing="1.37" textLength="68.6" lengthAdjust="spacingAndGlyphs">від 5001 до</text><text x="1023.4" y="716.9" font-size="15.2" font-weight="normal" fill="#f2fffb" stroke="#f2fffb" stroke-width="0.65" letter-spacing="1.37" textLength="59.7" lengthAdjust="spacingAndGlyphs">10000 грн</text><text x="1163.6" y="702.0" font-size="15.2" font-weight="normal" fill="#f2fffb" stroke="#f2fffb" stroke-width="0.65" letter-spacing="1.37" textLength="33.8" lengthAdjust="spacingAndGlyphs">понад</text><text x="1150.4" y="716.9" font-size="15.2" font-weight="normal" fill="#f2fffb" stroke="#f2fffb" stroke-width="0.65" letter-spacing="1.37" textLength="59.7" lengthAdjust="spacingAndGlyphs">10000 грн</text></g>
</svg>
</body></html>
